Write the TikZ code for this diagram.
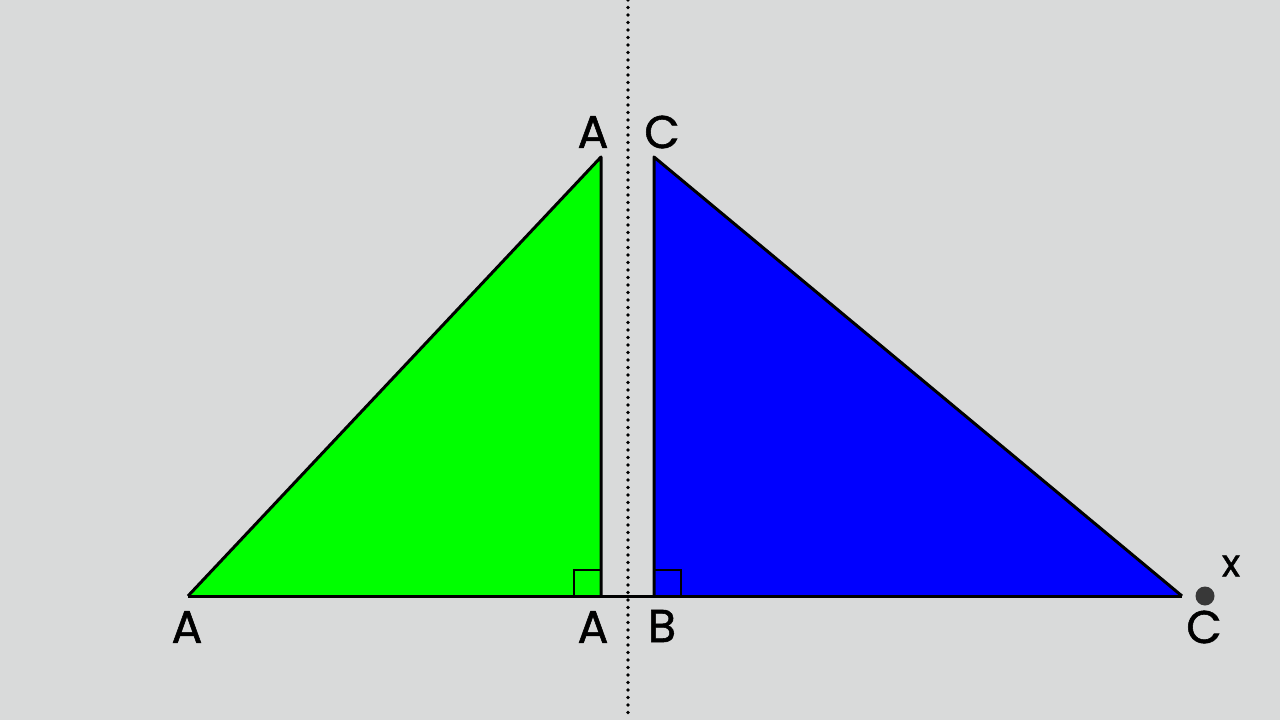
\documentclass[tikz,border=0pt]{standalone}
\usepackage{fontspec}
\setmainfont{Poppins}[FakeBold=1.2]
\definecolor{bg}{RGB}{217,218,218}
\definecolor{gfill}{RGB}{0,255,0}
\definecolor{bfill}{RGB}{0,0,255}
\begin{document}
\begin{tikzpicture}[x=1pt,y=-1pt,
  edge/.style={draw=black,line width=3pt,line join=round},
  lbl/.style={font=\fontsize{46}{46}\selectfont,inner sep=0pt,anchor=center},
  sq/.style={draw=black,line width=2.8pt}]
\fill[bg] (0,0) rectangle (1280,720);
\useasboundingbox (0,0) rectangle (1280,720);
% coordinates
\coordinate (gA) at (188,596);
\coordinate (gT) at (601,157);
\coordinate (gB) at (601,596);
\coordinate (bT) at (654,157);
\coordinate (bB) at (654,596);
\coordinate (bC) at (1182,596);
\coordinate (dTop) at (628,0);
\coordinate (dBot) at (628,720);
% dotted mirror line
\draw[line width=3.6pt,line cap=round,dash pattern=on 0pt off 7.5pt] (dTop) -- (dBot);
% triangles
\fill[gfill] (gA) -- (gT) -- (gB) -- cycle;
\fill[bfill] (bT) -- (bB) -- (bC) -- cycle;
\draw[edge] (gA) -- (gT) -- (gB);
\draw[edge] (bB) -- (bT) -- (bC);
\draw[edge] (gA) -- (bC);
% right-angle marks
\draw[sq] (574,596) rectangle (601,570);
\draw[sq] (654,596) rectangle (681,570);
% dot
\node[circle,fill=black!78,inner sep=0pt,minimum size=19pt] (dot) at (1205,596) {};
% labels
\node[lbl] (lA1) at (187,627) {A};
\node[lbl] (lA2) at (593,627) {A};
\node[lbl] (lB) at (662,626) {B};
\node[lbl] (lC1) at (1204,627) {C};
\node[lbl] (lA3) at (593,132) {A};
\node[lbl] (lC2) at (662,132) {C};
\node[lbl,font=\fontsize{38}{38}\selectfont] (lx) at (1231,566) {x};
\end{tikzpicture}
\end{document}
